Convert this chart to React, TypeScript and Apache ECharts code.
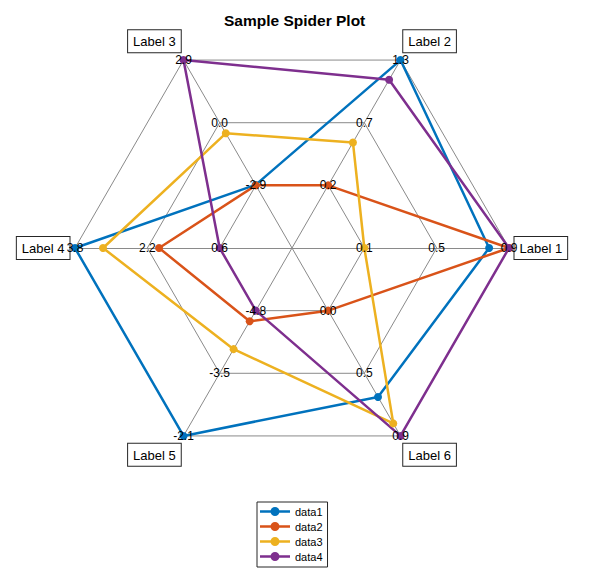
import React, { useEffect, useRef } from "react";
import * as echarts from "echarts";

const axisNames = ["Label 1", "Label 2", "Label 3", "Label 4", "Label 5", "Label 6"];
const axisMins = [0.1, 0.18, -2.9, 0.6, -4.82, 0.02];
const axisMaxs = [0.9, 1.26, 2.9, 3.8, -2.12, 0.92];

const seriesNames = ["data1", "data2", "data3", "data4"];
const data1 = [0.79, 1.26, -2.88, 3.8, -2.12, 0.64];
const data2 = [0.9, 0.18, -2.9, 1.94, -4.59, 0.02];
const data3 = [0.1, 0.55, -0.49, 3.18, -3.99, 0.83];
const data4 = [0.9, 1.09, 2.9, 0.6, -4.82, 0.92];
const seriesValues = [data1, data2, data3, data4];
const seriesColors = ["#0072BD", "#D95319", "#EDB120", "#7E2F8E"];

const FONT = "'Liberation Sans', Arial, Helvetica, sans-serif";
const GRID = "#8a8a8a";

export default function App() {
  const ref = useRef<HTMLDivElement>(null);
  useEffect(() => {
    document.body.style.margin = "0";
    const chart = echarts.init(ref.current!, undefined, { renderer: "svg" });
    // ring 1 = min, ring 3 = max, centre one interval below min
    const indicator = axisNames.map((n, i) => ({
      name: n,
      min: axisMins[i] - (axisMaxs[i] - axisMins[i]) / 2,
      max: axisMaxs[i],
      nameMoveOverlap: false,
    }));
    const legendIcon =
      "path://M0,3.25 H30 V5.75 H0 Z M10.5,4.5 A4.5,4.5 0 1 1 19.5,4.5 A4.5,4.5 0 1 1 10.5,4.5 Z";
    const common = {
      center: [292, 248],
      radius: 217,
      startAngle: 0,
      shape: "polygon",
      splitNumber: 3,
      indicator,
      nameGap: 5.5,
      splitArea: { show: false },
      axisTick: { show: false },
    };
    chart.setOption({
      animation: false,
      backgroundColor: "#fff",
      textStyle: { fontFamily: FONT },
      title: {
        text: "Sample Spider Plot",
        left: 219,
        top: 7,
        textStyle: { fontSize: 15.5, fontWeight: "bold", color: "#000", fontFamily: FONT },
      },
      legend: {
        orient: "vertical",
        left: 257,
        top: 502,
        padding: [4, 5, 5, 3],
        itemWidth: 30,
        itemHeight: 9,
        itemGap: 4,
        borderColor: "#262626",
        borderWidth: 1,
        icon: legendIcon,
        itemStyle: { borderWidth: 0 },
        textStyle: { fontSize: 11, color: "#000", fontFamily: FONT },
        data: seriesNames,
      },
      radar: [
        {
          ...common,
          z: 0,
          axisName: { show: false },
          splitLine: { lineStyle: { color: GRID, width: 1 } },
          axisLine: { lineStyle: { color: GRID, width: 1 } },
          axisLabel: { show: false },
        },
        {
          ...common,
          z: 5,
          splitLine: { show: false },
          axisLine: { show: false },
          axisName: {
            color: "#000",
            fontFamily: FONT,
            fontSize: 13,
            formatter: (name: string) => {
              const i = axisNames.indexOf(name);
              if (i === 1 || i === 2) return `{b|${name}}\n{s| }`;
              if (i === 4 || i === 5) return `{s| }\n{b|${name}}`;
              return `{b|${name}}`;
            },
            rich: {
              b: {
                color: "#000",
                fontFamily: FONT,
                fontSize: 13,
                borderColor: "#262626",
                borderWidth: 1,
                backgroundColor: "#fff",
                padding: [5, 5, 4, 5],
              },
              s: { fontSize: 12, height: 28 },
            },
          },
          axisLabel: {
            show: true,
            margin: 0,
            align: "center",
            verticalAlign: "middle",
            color: "#000",
            fontSize: 12,
            fontFamily: FONT,
            showMinLabel: false,
            showMaxLabel: true,
            formatter: (v: number, idx: number) => {
              if (idx === 0) return "";
              const r = Math.round(v * 10) / 10;
              return (r === 0 ? 0 : r).toFixed(1);
            },
          },
        },
      ],
      series: seriesNames.map((n, k) => ({
        type: "radar",
        name: n,
        radarIndex: 0,
        symbol: "circle",
        symbolSize: 8,
        z: 2,
        lineStyle: { color: seriesColors[k], width: 2.5 },
        itemStyle: { color: seriesColors[k], borderWidth: 0 },
        data: [{ name: n, value: seriesValues[k] }],
      })),
    });
    return () => chart.dispose();
  }, []);
  return <div ref={ref} style={{ width: 591, height: 577 }} />;
}
